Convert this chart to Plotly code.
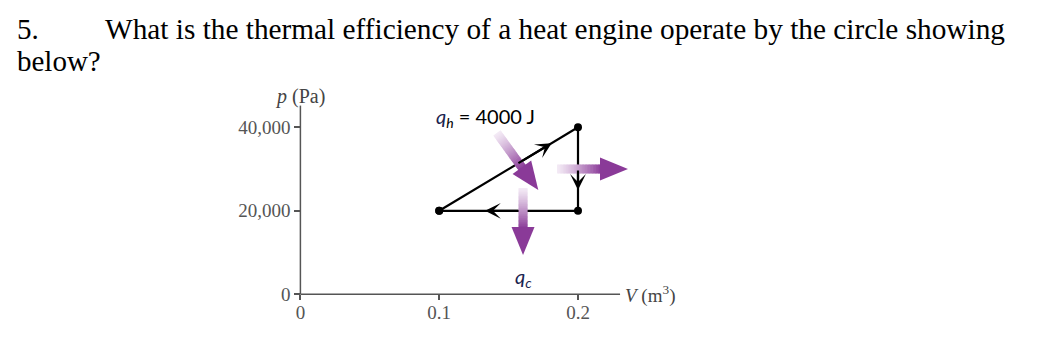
import plotly.graph_objects as go

W, H = 1037, 351

# ---------------- data ----------------
cycle_V = [0.1, 0.2, 0.2, 0.1]            # m^3
cycle_p = [20000, 40000, 20000, 20000]    # Pa
x_ticks = [0, 0.1, 0.2]
x_ticklabels = ["0", "0.1", "0.2"]
y_ticks = [0, 20000, 40000]
y_ticklabels = ["0", "20,000", "40,000"]
q_h_value = "4000 J"
question_no = "5."
question_line1 = "What is the thermal efficiency of a heat engine operate by the circle showing"
question_line2 = "below?"

# ---------------- layout mapping ----------------
X_ORIGIN_PX, X_PX_PER_UNIT = 300.4, 1388.0
Y_ORIGIN_PX, Y_PX_PER_UNIT = 294.3, 0.004175
x_range = [-X_ORIGIN_PX / X_PX_PER_UNIT, (W - X_ORIGIN_PX) / X_PX_PER_UNIT]
y_range = [-(H - Y_ORIGIN_PX) / Y_PX_PER_UNIT, Y_ORIGIN_PX / Y_PX_PER_UNIT]
X_AXIS_END = 0.2303
Y_AXIS_END = 45200

AXIS_COLOR = "#555555"
SERIF = "Liberation Serif, Times New Roman, serif"
SANS = "Lato, Open Sans, sans-serif"
PURPLE = (138, 58, 152)
LIGHT = (244, 235, 246)

fig = go.Figure()

# axis lines (through data scales)
fig.add_trace(go.Scatter(x=[0, X_AXIS_END], y=[0, 0], mode="lines",
                         line=dict(color=AXIS_COLOR, width=1.5), hoverinfo="skip"))
fig.add_trace(go.Scatter(x=[0, 0], y=[0, Y_AXIS_END], mode="lines",
                         line=dict(color=AXIS_COLOR, width=1.5), hoverinfo="skip"))

# the cycle
fig.add_trace(go.Scatter(x=cycle_V, y=cycle_p, mode="lines+markers",
                         line=dict(color="black", width=2.2),
                         marker=dict(color="black", size=8), hoverinfo="skip"))

# mid-edge direction arrowheads
edge_t = [0.81, 0.75, 0.67]
for i, t in enumerate(edge_t):
    x0, y0 = cycle_V[i], cycle_p[i]
    x1, y1 = cycle_V[i + 1], cycle_p[i + 1]
    tip = (x0 + (x1 - x0) * t, y0 + (y1 - y0) * t)
    back = (x0 + (x1 - x0) * (t - 0.25), y0 + (y1 - y0) * (t - 0.25))
    fig.add_annotation(x=tip[0], y=tip[1], ax=back[0], ay=back[1],
                       xref="x", yref="y", axref="x", ayref="y", text="",
                       showarrow=True, arrowhead=3, arrowsize=1.2, arrowwidth=2.2,
                       arrowcolor="black")


# gradient (heat-flow) arrows
def to_px(x, y):
    return x * X_PX_PER_UNIT, -y * Y_PX_PER_UNIT


def from_px(u, v):
    return u / X_PX_PER_UNIT, -v / Y_PX_PER_UNIT


def gradient_arrow(tail, tip, shaft_w=9, head_len=28, head_w=23, n=30):
    tu, tv = to_px(*tail)
    hu, hv = to_px(*tip)
    du, dv = hu - tu, hv - tv
    L = (du ** 2 + dv ** 2) ** 0.5
    du, dv = du / L, dv / L
    nu, nv = -dv, du
    bu, bv = hu - du * head_len, hv - dv * head_len
    shaft_len = L - head_len + 1
    for k in range(n):
        s0 = shaft_len * k / n
        s1 = shaft_len * (k + 1) / n + 0.6
        f = ((k + 0.5) / n) ** 1.2
        col = tuple(round(LIGHT[j] + (PURPLE[j] - LIGHT[j]) * f) for j in range(3))
        xa, ya = from_px(tu + du * s0, tv + dv * s0)
        xb, yb = from_px(tu + du * min(s1, shaft_len), tv + dv * min(s1, shaft_len))
        fig.add_shape(type="line", xref="x", yref="y", x0=xa, y0=ya, x1=xb, y1=yb,
                      line=dict(color="rgb(%d,%d,%d)" % col, width=shaft_w), layer="above")
    p1 = from_px(bu + nu * head_w / 2, bv + nv * head_w / 2)
    p2 = from_px(bu - nu * head_w / 2, bv - nv * head_w / 2)
    path = "M %f,%f L %f,%f L %f,%f Z" % (tip[0], tip[1], p1[0], p1[1], p2[0], p2[1])
    fig.add_shape(type="path", xref="x", yref="y", path=path,
                  fillcolor="rgb(%d,%d,%d)" % PURPLE, line=dict(width=0), layer="above")


gradient_arrow((0.1416, 38640), (0.1714, 24980))   # q_h in
gradient_arrow((0.1849, 30010), (0.2360, 30010))   # work out
gradient_arrow((0.1604, 25460), (0.1604, 9410))    # q_c out

# heat labels
fig.add_annotation(x=0.1337, y=42230, xref="x", yref="y", showarrow=False,
                   text="<i><span style='color:#1b2550'>q</span><sub>h</sub></i> = " + q_h_value,
                   font=dict(family=SANS, size=20, color="black"))
fig.add_annotation(x=0.1604, y=4140, xref="x", yref="y", showarrow=False,
                   text="<i><span style='color:#1b2550'>q</span><sub>c</sub></i>",
                   font=dict(family=SANS, size=20, color="#1b2550"))

# axis titles
fig.add_annotation(x=0, y=47260, xref="x", yref="y", showarrow=False,
                   text="<i>p</i> (Pa)", font=dict(family=SERIF, size=20, color="#444444"))
fig.add_annotation(x=X_AXIS_END, y=0, xref="x", yref="y", xanchor="left", xshift=3,
                   showarrow=False, text="<i>V</i> (m<sup>3</sup>)",
                   font=dict(family=SERIF, size=19, color="#444444"))

# question text
fig.add_annotation(x=15 / W, y=1 - 29 / H, xref="paper", yref="paper", xanchor="left",
                   yanchor="middle", showarrow=False, text=question_no,
                   font=dict(family=SERIF, size=29, color="black"))
fig.add_annotation(x=103 / W, y=1 - 29 / H, xref="paper", yref="paper", xanchor="left",
                   yanchor="middle", showarrow=False, text=question_line1,
                   font=dict(family=SERIF, size=29.3, color="black"))
fig.add_annotation(x=15 / W, y=1 - 61 / H, xref="paper", yref="paper", xanchor="left",
                   yanchor="middle", showarrow=False, text=question_line2,
                   font=dict(family=SERIF, size=29, color="black"))

fig.update_layout(
    width=W, height=H, margin=dict(l=0, r=0, t=0, b=0),
    paper_bgcolor="white", plot_bgcolor="white", showlegend=False,
    xaxis=dict(range=x_range, domain=[0, 1], anchor="free",
               position=(0 - y_range[0]) / (y_range[1] - y_range[0]),
               showgrid=False, zeroline=False, showline=False,
               tickmode="array", tickvals=x_ticks, ticktext=x_ticklabels,
               ticks="outside", ticklen=5, tickwidth=1.5, tickcolor=AXIS_COLOR,
               ticklabelstandoff=-4,
               tickfont=dict(family=SERIF, size=19, color="#555555"), fixedrange=True),
    yaxis=dict(range=y_range, domain=[0, 1], anchor="free",
               position=(0 - x_range[0]) / (x_range[1] - x_range[0]),
               showgrid=False, zeroline=False, showline=False,
               tickmode="array", tickvals=y_ticks, ticktext=y_ticklabels,
               ticks="outside", ticklen=6, tickwidth=1.5, tickcolor=AXIS_COLOR,
               tickfont=dict(family=SERIF, size=19, color="#555555"), fixedrange=True),
)

fig.write_html("out.html")
